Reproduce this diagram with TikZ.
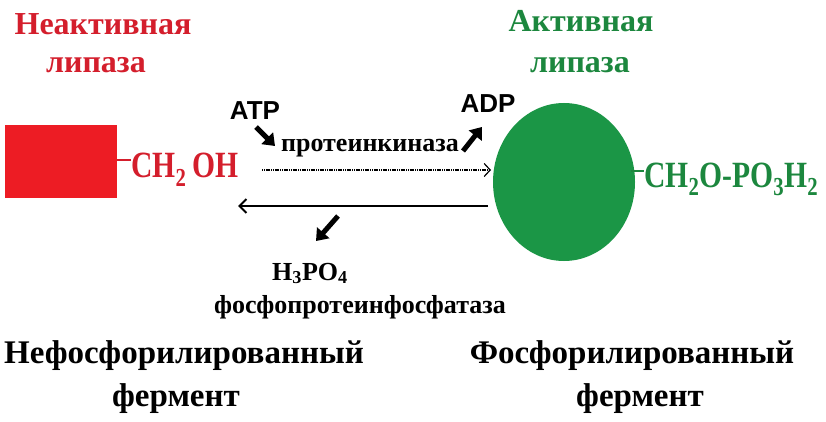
\documentclass[tikz,border=0pt]{standalone}
\usepackage{fontspec}
\setmainfont{Liberation Serif}
\setsansfont{Liberation Sans}
\newfontfamily\condensed[FakeStretch=0.8]{Liberation Serif}
\usetikzlibrary{arrows.meta,shapes.geometric}
\definecolor{lipred}{RGB}{237,28,36}
\definecolor{lipredtext}{RGB}{212,30,44}
\definecolor{lipgreen}{RGB}{27,150,70}
\definecolor{lipgreentext}{RGB}{28,135,62}
\begin{document}
\begin{tikzpicture}[x=1pt,y=-1pt]

\tikzset{title/.style = {inner sep=0, anchor=base, font=\bfseries\fontsize{32}{36}\selectfont},
	enzname/.style = {inner sep=0, anchor=base, font=\bfseries\fontsize{33}{36}\selectfont},
	formula/.style = {inner sep=0, anchor=base west, font=\condensed\bfseries\fontsize{37}{42}\selectfont},
	reagent/.style = {inner sep=0, anchor=base, font=\sffamily\bfseries\fontsize{26}{28}\selectfont},
	enzyme/.style = {inner sep=0, anchor=base, font=\bfseries\fontsize{26}{28}\selectfont},
	fat/.style = {line width=5pt, -{Triangle[length=11pt,width=16pt]}},
	fwd/.style = {line width=1.2pt, dash pattern=on 1.2pt off 0.6pt, -{Straight Barb[length=6pt,width=13pt]}},
	back/.style = {line width=2pt, -{Straight Barb[length=7pt,width=14pt]}}}

\useasboundingbox[fill=white] (0,0) rectangle (826,422);

\node[title, text=lipredtext] (inact1) at (103, 35) {Неактивная};
\node[title, text=lipredtext] (inact2) at (96, 73) {липаза};
\node[title, text=lipgreentext] (act1) at (581, 32) {Активная};
\node[title, text=lipgreentext] (act2) at (580, 73) {липаза};

\node[fill=lipred, minimum width=112pt, minimum height=73pt, inner sep=0] (enzA) at (61, 161.5) {};
\node[formula, text=lipredtext] (chA) at (131, 178) {CH\textsubscript{2}\hspace{6pt}OH};
\draw[lipredtext, line width=2.5pt] ([yshift=1.5pt]enzA.east) -- ([yshift=1.5pt]enzA.east -| chA.west);

\node[ellipse, fill=lipgreen, minimum width=142pt, minimum height=158pt, inner sep=0] (enzB) at (564, 182) {};
\node[formula, text=lipgreentext] (chB) at (644, 187) {CH\textsubscript{2}O-PO\textsubscript{3}H\textsubscript{2}};
\draw[lipgreentext, line width=1.5pt] ([xshift=-4pt]enzB.east |- 0,171) -- (chB.west |- 0,171);

\node[reagent] (atp) at (255, 120) {ATP};
\node[reagent] (adp) at (488, 113) {ADP};
\node[enzyme] (kin) at (370, 152) {протеинкиназа};
\node[enzyme] (pi) at (310, 280) {H\textsubscript{3}PO\textsubscript{4}};
\node[enzyme] (phos) at (360, 313) {фосфопротеинфосфатаза};

\coordinate (kinS) at (262, 170);
\coordinate (kinE) at (491, 170);
\coordinate (phS) at (488, 206);
\coordinate (phE) at (238, 206);
\draw[fwd] (kinS) -- (kinE);
\draw[back] (phS) -- (phE);

\coordinate (atpS) at (256, 127);
\coordinate (atpE) at (275, 146);
\coordinate (adpS) at (463, 151);
\coordinate (adpE) at (482, 127);
\coordinate (piS) at (338, 216);
\coordinate (piE) at (316, 241);
\draw[fat] (atpS) -- (atpE);
\draw[fat] (adpS) -- (adpE);
\draw[fat] (piS) -- (piE);

\node[enzname] (unph1) at (184, 363) {Нефосфорилированный};
\node[enzname] (unph2) at (176, 406) {фермент};
\node[enzname] (ph1) at (632, 363) {Фосфорилированный};
\node[enzname] (ph2) at (640, 406) {фермент};

\end{tikzpicture}
\end{document}
